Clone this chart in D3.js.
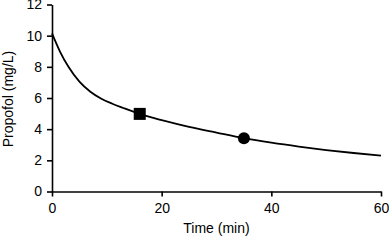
<!DOCTYPE html>
<html>
<head>
<meta charset="utf-8">
<script src="https://cdn.jsdelivr.net/npm/d3@7"></script>
<style>
  body { margin: 0; background: #fff; }
  svg { display: block; overflow: visible; }
  text { font-family: "Liberation Sans", Arial, sans-serif; fill: #000; }
</style>
</head>
<body>
<div id="chart"></div>
<script>
// 数据
const times = [0, 1.5, 3, 5, 7, 9, 11, 13, 16, 20, 25, 30, 35, 40, 45, 50, 55, 60];
const propofol = [10.15, 8.95, 8.0, 7.05, 6.4, 5.95, 5.63, 5.36, 4.98, 4.58, 4.15, 3.78, 3.42, 3.13, 2.88, 2.66, 2.47, 2.3];
const squareMark = { t: 16, v: 4.98 };
const circleMark = { t: 35, v: 3.42 };
const xTicks = [0, 20, 40, 60];
const yTicks = [0, 2, 4, 6, 8, 10, 12];

const width = 389, height = 240;
const margin = { top: 4.5, right: 8, bottom: 48.5, left: 52 };
const innerWidth = width - margin.left - margin.right;
const innerHeight = height - margin.top - margin.bottom;

const svg = d3.select("#chart").append("svg")
    .attr("width", width)
    .attr("height", height);

const g = svg.append("g")
    .attr("transform", `translate(${margin.left},${margin.top})`);

const x = d3.scaleLinear().domain([0, 60]).range([0, innerWidth]);
const y = d3.scaleLinear().domain([0, 12]).range([innerHeight, 0]);

// 坐标轴
const xAxis = g.append("g")
    .attr("transform", `translate(0,${innerHeight})`)
    .call(d3.axisBottom(x).tickValues(xTicks).tickSize(5).tickPadding(7).tickSizeOuter(0));
const yAxis = g.append("g")
    .call(d3.axisLeft(y).tickValues(yTicks).tickSize(5).tickPadding(5).tickSizeOuter(0));

[xAxis, yAxis].forEach(a => {
    a.selectAll("path, line").attr("stroke", "#000").attr("stroke-width", 1.6);
    a.selectAll("text")
        .attr("font-size", 14)
        .attr("font-family", "Liberation Sans, Arial, sans-serif")
        .attr("fill", "#000");
});

// 曲线
const pts = times.map((t, i) => ({ t, v: propofol[i] }));
g.append("path")
    .datum(pts)
    .attr("fill", "none")
    .attr("stroke", "#000")
    .attr("stroke-width", 1.8)
    .attr("d", d3.line().x(d => x(d.t)).y(d => y(d.v)).curve(d3.curveMonotoneX));

// 标记
const s = 12;
g.append("rect")
    .attr("x", x(squareMark.t) - s / 2)
    .attr("y", y(squareMark.v) - s / 2)
    .attr("width", s).attr("height", s)
    .attr("fill", "#000");
g.append("circle")
    .attr("cx", x(circleMark.t))
    .attr("cy", y(circleMark.v))
    .attr("r", 6)
    .attr("fill", "#000");

// 轴标题
svg.append("text")
    .attr("x", margin.left + innerWidth / 2)
    .attr("y", 233)
    .attr("text-anchor", "middle")
    .attr("font-size", 14)
    .text("Time (min)");
svg.append("text")
    .attr("transform", "translate(13,99) rotate(-90)")
    .attr("text-anchor", "middle")
    .attr("font-size", 14)
    .text("Propofol (mg/L)");
</script>
</body>
</html>
